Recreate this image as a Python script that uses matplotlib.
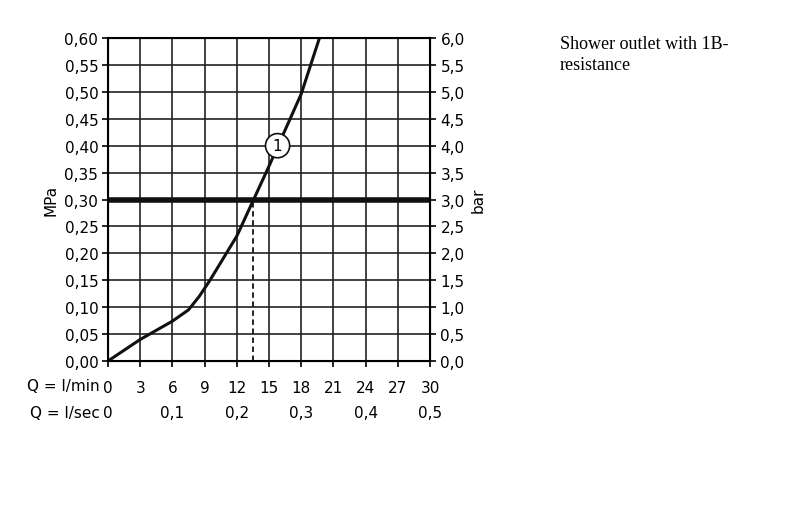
import matplotlib
matplotlib.use("Agg")
import matplotlib.pyplot as plt
import numpy as np

flow_lmin = [0, 3, 6, 7.5, 8.5, 9.5, 12, 13.5, 15, 18, 19.7]
pressure_mpa = [0, 0.04, 0.074, 0.095, 0.12, 0.15, 0.232, 0.297, 0.362, 0.496, 0.60]
x_ticks = list(range(0, 31, 3))
y_ticks = [round(0.05 * i, 2) for i in range(13)]
lsec_labels = ["0", "0,1", "0,2", "0,3", "0,4", "0,5"]
lsec_pos = [0, 6, 12, 18, 24, 30]
op_flow, op_pressure = 13.5, 0.30

fig = plt.figure(figsize=(8, 5.1), dpi=100)
ax = fig.add_axes([0.135, 0.2902, 0.4025, 0.6333])
ax.set_xlim(0, 30); ax.set_ylim(0, 0.6)
ax.set_xticks(x_ticks); ax.set_yticks(y_ticks)
ax.grid(True, color="#222", lw=1.2)
for s in ax.spines.values():
    s.set_linewidth(1.5)
ax.set_yticklabels([f"{v:.2f}".replace(".", ",") for v in y_ticks], fontsize=11)
ax.set_xticklabels([str(v) for v in x_ticks], fontsize=11)
ax.tick_params(length=4, width=1.2, pad=3)
ax.tick_params(axis="x", pad=10)
ax.plot(flow_lmin, pressure_mpa, color="#111", lw=2.2)
ax.axhline(op_pressure, color="#111", lw=4)
ax.plot([op_flow, op_flow], [0, op_pressure], color="#111", lw=1.3, ls=(0, (3, 2)))
ax.text(15.8, 0.40, "1", ha="center", va="center", fontsize=11,
        bbox=dict(boxstyle="circle,pad=0.3", fc="white", ec="#111", lw=1.2))
ax.set_ylabel("MPa", fontsize=11)
ax2 = ax.twinx()
ax2.set_ylim(0, 6)
ax2.set_yticks(np.arange(0, 6.01, 0.5))
ax2.set_yticklabels([f"{v:.1f}".replace(".", ",") for v in np.arange(0, 6.01, 0.5)], fontsize=11)
ax2.tick_params(length=4, width=1.2)
ax2.set_ylabel("bar", fontsize=11)
fig.text(100 / 800, 1 - 387 / 510, "Q = l/min", fontsize=11, va="center", ha="right")
fig.text(100 / 800, 1 - 414 / 510, "Q = l/sec", fontsize=11, va="center", ha="right")
for p, l in zip(lsec_pos, lsec_labels):
    fig.text(0.135 + 0.4025 * p / 30, 1 - 414 / 510, l, fontsize=11, ha="center", va="center")
fig.text(0.70, 0.93, "Shower outlet with 1B-\nresistance", fontsize=13,
         family="Liberation Serif", va="top", linespacing=1.3)
fig.savefig("out.png")
